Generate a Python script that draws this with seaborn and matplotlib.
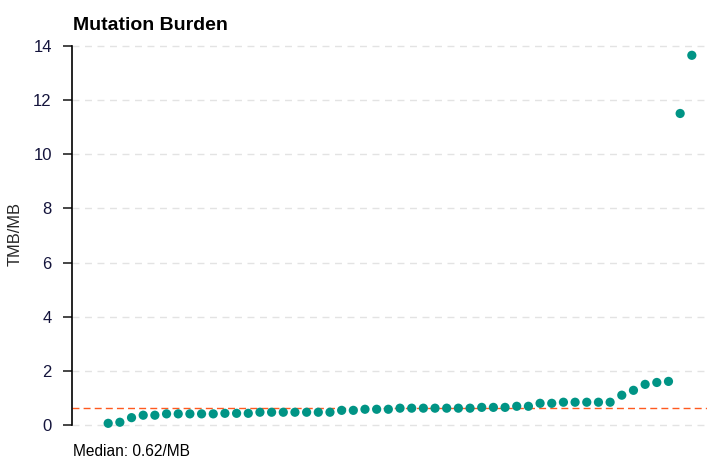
import matplotlib
matplotlib.use("Agg")
import matplotlib.pyplot as plt
import seaborn as sns
import numpy as np
import pandas as pd

sns.set_style("white")
plt.rcParams['font.family'] = ['Liberation Sans', 'DejaVu Sans']

tmb = [0.06, 0.10, 0.27, 0.36, 0.36, 0.41, 0.41, 0.41, 0.41, 0.41,
       0.43, 0.43, 0.43, 0.47, 0.47, 0.47, 0.47, 0.47, 0.47, 0.47,
       0.54, 0.54, 0.58, 0.58, 0.58, 0.62, 0.62, 0.62, 0.62, 0.62,
       0.62, 0.62, 0.65, 0.65, 0.65, 0.69, 0.69, 0.80, 0.80, 0.84,
       0.84, 0.84, 0.84, 0.84, 1.10, 1.28, 1.50, 1.57, 1.61, 11.51, 13.66]
median_val = 0.62
yticks = [0, 2, 4, 6, 8, 10, 12, 14]
title = "Mutation Burden"
ylabel = "TMB/MB"
median_label = "Median: 0.62/MB"

df = pd.DataFrame({"sample": np.arange(len(tmb)), "tmb": tmb})

fig = plt.figure(figsize=(7.10, 4.72), dpi=100)
ax = fig.add_axes([72/710, 0.071, (707-72)/710, 0.86])

for t in yticks:
    ax.axhline(t, color="#e3e3e3", lw=1, ls=(0, (5, 4)), zorder=0)

ax.axhline(median_val, color="#ff5a1f", lw=1, ls=(0, (5, 3)), zorder=1)

sns.scatterplot(data=df, x="sample", y="tmb", ax=ax, color="#009485",
                s=44, edgecolor="none", zorder=3, clip_on=False)

ax.set_xlim(-3.1, len(tmb) + 0.3)
ax.set_ylim(-0.5, 14.5)
ax.set_yticks(yticks)
ax.set_yticklabels([str(t) for t in yticks], fontsize=12, color="#14143c")
ax.set_xticks([])
ax.set_xlabel("")
ax.set_ylabel("")

for s in ["top", "right", "bottom"]:
    ax.spines[s].set_visible(False)
ax.spines["left"].set_bounds(0, 14)
ax.spines["left"].set_color("black")
ax.spines["left"].set_linewidth(1.2)
ax.tick_params(axis="y", direction="out", length=6.5, width=1.2, pad=8, left=True)

fig.text(15/710, 1 - 234/472, ylabel, fontsize=11.8, rotation=90, ha="center", va="center")
fig.text(73/710, 1 - 25/472, title, fontsize=14, fontweight="bold", ha="left", va="center", color="black")
fig.text(73/710, 1 - 451/472, median_label, fontsize=11.2, ha="left", va="center", color="black")

fig.savefig("out.png", dpi=100)
